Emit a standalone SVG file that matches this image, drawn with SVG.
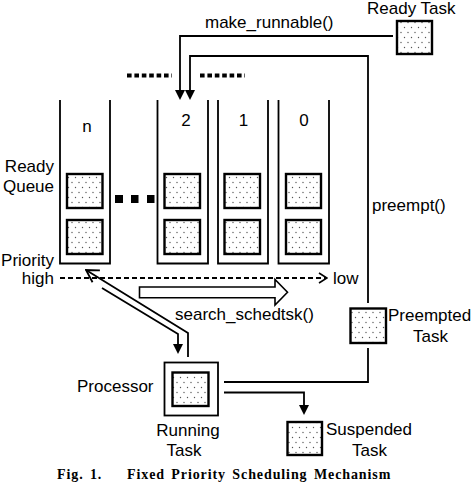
<svg xmlns="http://www.w3.org/2000/svg" width="474" height="483" viewBox="0 0 474 483">
<style>
text{font-family:"Liberation Sans",Arial,sans-serif;font-size:17px;fill:#000}
.col{fill:none;stroke:#000;stroke-width:1.8}
.task{fill:url(#dots);stroke:#000;stroke-width:2.4}
.con{fill:none;stroke:#000;stroke-width:1.8}
.cap{font-family:"Liberation Serif","Times New Roman",serif;font-weight:bold;font-size:14px;letter-spacing:0.9px;word-spacing:2px}
</style>
<defs>
<pattern id="dots" width="7" height="10" patternUnits="userSpaceOnUse">
<rect width="7" height="10" fill="#fff"/>
<circle cx="2" cy="2.5" r="0.7" fill="#555"/>
<circle cx="5.5" cy="7.5" r="0.7" fill="#555"/>
</pattern>
<marker id="fa" markerUnits="userSpaceOnUse" viewBox="0 0 10 10" refX="0" refY="5" markerWidth="10" markerHeight="10" orient="auto">
<path d="M0,0 L10,5 L0,10 z" fill="#000"/>
</marker>
<marker id="oa" markerUnits="userSpaceOnUse" viewBox="-1 -1 14 16" refX="12" refY="7" markerWidth="14" markerHeight="16" orient="auto">
<path d="M0,0 L12,7 L0,14" fill="none" stroke="#000" stroke-width="1.8"/>
</marker>
<marker id="da" markerUnits="userSpaceOnUse" viewBox="-1 -1 10 12" refX="8" refY="5" markerWidth="10" markerHeight="12" orient="auto">
<path d="M0,0 L8,5 L0,10" fill="none" stroke="#000" stroke-width="1.6" stroke-dasharray="none"/>
</marker>
</defs>
<rect width="474" height="483" fill="#fff"/>

<g id="col-n">
<path class="col" d="M60,100 V263.5 H110 V100"/>
<rect class="task" x="67" y="174" width="35.5" height="34"/>
<rect class="task" x="67" y="220" width="35.5" height="34"/>
<text x="87" y="131.5" text-anchor="middle">n</text>
</g>
<g id="col-2">
<path class="col" d="M157.5,100 V263.5 H208 V100"/>
<rect class="task" x="164.5" y="174" width="35.5" height="34"/>
<rect class="task" x="164.5" y="220" width="35.5" height="34"/>
<text x="186" y="126" text-anchor="middle">2</text>
</g>
<g id="col-1">
<path class="col" d="M218,100 V263.5 H268 V100"/>
<rect class="task" x="224.5" y="174" width="35.5" height="34"/>
<rect class="task" x="224.5" y="220" width="35.5" height="34"/>
<text x="243.5" y="126" text-anchor="middle">1</text>
</g>
<g id="col-0">
<path class="col" d="M278.5,100 V263.5 H329 V100"/>
<rect class="task" x="286" y="174" width="35" height="34"/>
<rect class="task" x="286" y="220" width="35" height="34"/>
<text x="304" y="126" text-anchor="middle">0</text>
</g>

<g id="ellipsis">
<rect x="115" y="195" width="8" height="8" fill="#000"/>
<rect x="131" y="195" width="7.5" height="8" fill="#000"/>
<rect x="147" y="195" width="7.5" height="8" fill="#000"/>
<line x1="127" y1="75.5" x2="172" y2="75.5" stroke="#000" stroke-width="4" stroke-dasharray="4.6 2.8"/>
<line x1="200" y1="75.5" x2="245" y2="75.5" stroke="#000" stroke-width="4" stroke-dasharray="4.6 2.8"/>
</g>

<g id="labels">
<text x="54" y="172" text-anchor="end">Ready</text>
<text x="54" y="191.5" text-anchor="end">Queue</text>
<text x="54" y="265.5" text-anchor="end">Priority</text>
<text x="54" y="284" text-anchor="end">high</text>
<text x="333" y="284">low</text>
<text x="205" y="28">make_runnable()</text>
<text x="372" y="210.5">preempt()</text>
<text x="175" y="320">search_schedtsk()</text>
</g>

<g id="ready-task">
<text x="367" y="14">Ready Task</text>
<rect class="task" x="397" y="21" width="35" height="33"/>
</g>

<g id="preempted-task">
<rect class="task" x="350.5" y="308.5" width="35.5" height="34.5"/>
<text x="388" y="320.5">Preempted</text>
<text x="413" y="341.5">Task</text>
</g>

<g id="processor">
<text x="77" y="392">Processor</text>
<rect x="164.5" y="362.5" width="53.5" height="53" fill="#fff" stroke="#000" stroke-width="1.8"/>
<rect class="task" x="172.5" y="372.5" width="36" height="33.5"/>
<text x="188" y="435.5" text-anchor="middle">Running</text>
<text x="184" y="455.5" text-anchor="middle">Task</text>
</g>

<g id="suspended-task">
<rect class="task" x="287.5" y="422" width="34.5" height="33"/>
<text x="326" y="435">Suspended</text>
<text x="352" y="455.5">Task</text>
</g>

<g id="search-arrow">
<polygon points="139.5,287 275,287 275,279.5 287.5,292.3 275,305 275,297.8 139.5,297.8" fill="#fff" stroke="#000" stroke-width="1.6"/>
</g>

<g id="connectors">
<polyline class="con" points="393,36 180,36 180,90" marker-end="url(#fa)"/>
<polyline class="con" points="368,303 368,56 190,56 190,90" marker-end="url(#fa)"/>
<polyline class="con" points="224,382 368,382 368,348"/>
<polyline class="con" points="224,392.5 304,392.5 304,405" marker-end="url(#fa)"/>
<polyline class="con" points="102,288 178,334 178,344" marker-end="url(#fa)"/>
<polyline class="con" points="188,357 188,333 86,270" marker-end="url(#oa)"/>
<line class="con" x1="60" y1="278" x2="327" y2="278" stroke-width="1.4" stroke-dasharray="5 3" marker-end="url(#da)"/>
</g>

<text class="cap" x="57" y="478.5">Fig. 1.<tspan x="127">Fixed Priority Scheduling Mechanism</tspan></text>
</svg>
